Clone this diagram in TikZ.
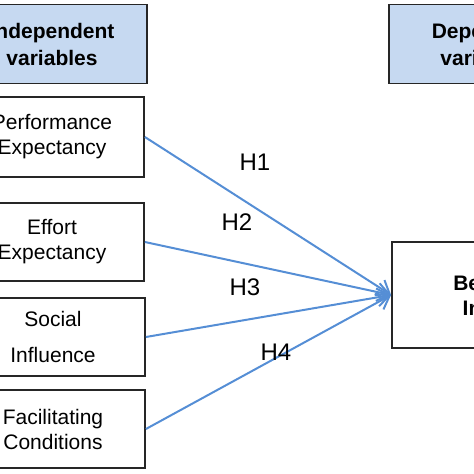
\documentclass[tikz,border=0pt]{standalone}
\usepackage{fontspec}
\setmainfont{Liberation Sans}
\usetikzlibrary{arrows.meta, positioning}
\definecolor{hdrblue}{RGB}{198,217,241}
\definecolor{arrblue}{RGB}{85,142,213}
\begin{document}
\begin{tikzpicture}[x=1pt, y=-1pt,
  header/.style={rectangle, draw=black!85, line width=1.8pt, fill=hdrblue, minimum width=190pt, minimum height=79pt, align=center, font=\fontsize{21}{27}\selectfont\bfseries},
  construct/.style={rectangle, draw=black!85, line width=1.8pt, fill=white, minimum width=184pt, minimum height=78pt, align=center, font=\fontsize{21}{25}\selectfont},
  outcome/.style={construct, minimum width=230pt, minimum height=106pt, font=\fontsize{21}{25}\selectfont\bfseries},
  hyp/.style={-{Straight Barb[length=12pt, width=18pt, line width=2pt]}, line width=2pt, arrblue},
  hlabel/.style={font=\fontsize{24}{24}\selectfont, inner sep=0pt}
]
\useasboundingbox (0,0) rectangle (474,474);
\clip (0,0) rectangle (474,474);

\node[header] (ivhead) at (52,44) {Independent\\variables};
\node[header, minimum width=194pt] (dvhead) at (486,44) {Dependent\\variables};

\node[construct, minimum height=80pt] (pe) at (52,137) {Performance\\Expectancy};
\node[construct] (ee) at (52,242) {Effort\\Expectancy};
\node[construct] (si) at (53,337) {Social\\[11pt]Influence};
\node[construct] (fc) at (53,429) {Facilitating\\Conditions};

\node[outcome] (bi) at (507,295) {Behavioral\\Intention};

\draw[hyp] (pe.east) -- (bi.west);
\draw[hyp] (ee.east) -- (bi.west);
\draw[hyp] (si.east) -- (bi.west);
\draw[hyp] (fc.east) -- (bi.west);

\node[hlabel] (h1) at (255,162) {H1};
\node[hlabel] (h2) at (237,222) {H2};
\node[hlabel] (h3) at (245,287) {H3};
\node[hlabel] (h4) at (276,352) {H4};
\end{tikzpicture}
\end{document}
